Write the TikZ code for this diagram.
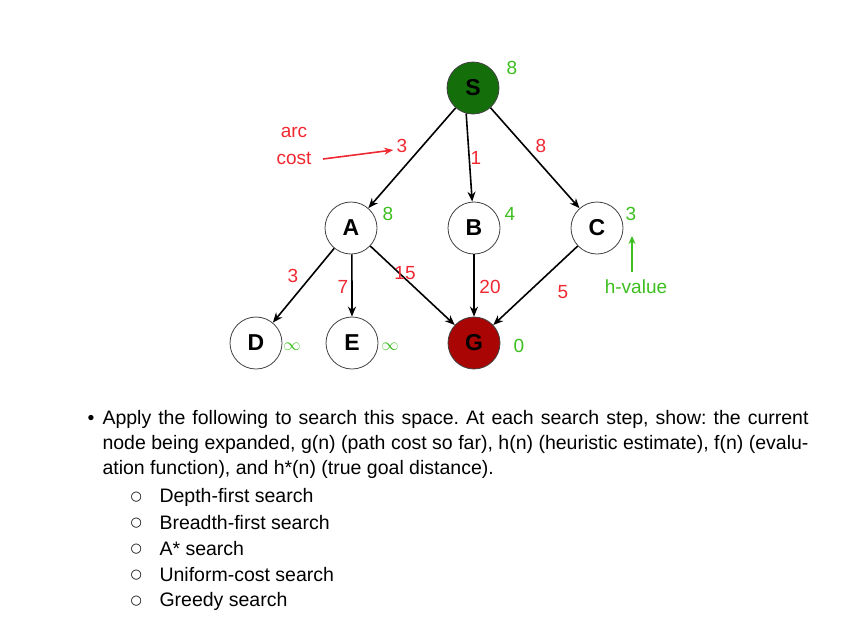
\documentclass[tikz,border=0pt]{standalone}
\usepackage{fontspec}
\setmainfont{Liberation Sans}
\newfontfamily\dejavu{DejaVu Sans}
\usetikzlibrary{arrows.meta}
\definecolor{gr}{RGB}{60,190,30}
\definecolor{rd}{RGB}{240,40,50}
\definecolor{sgreen}{RGB}{20,110,10}
\definecolor{gred}{RGB}{170,5,5}
\begin{document}
\frenchspacing
\begin{tikzpicture}[x=1pt,y=-1pt,
  nd/.style={circle,draw=black!75,line width=0.8pt,minimum size=52pt,inner sep=0pt,font=\fontsize{23}{23}\selectfont\bfseries},
  ed/.style={-{Stealth[length=10pt,width=8pt]},line width=1.6pt,black},
  cost/.style={text=rd,font=\fontsize{19}{19}\selectfont},
  hv/.style={text=gr,font=\fontsize{19}{19}\selectfont},
  body/.style={font=\fontsize{19.5}{22}\selectfont,anchor=west}]
\useasboundingbox (0,0) rectangle (845,633);
\node[nd,fill=sgreen] (S) at (473,88) {S};
\node[nd] (A) at (351,228) {A};
\node[nd] (B) at (474,228) {B};
\node[nd] (C) at (597,228) {C};
\node[nd] (D) at (256,343) {D};
\node[nd] (E) at (352,343) {E};
\node[nd,fill=gred] (G) at (474,343) {G};
\draw[ed] (S) -- (A);
\draw[ed] (S.255) -- (B);
\draw[ed] (S) -- (C);
\draw[ed] (A) -- (D);
\draw[ed] (A.272) -- (E);
\draw[ed] (A) -- (G);
\draw[ed] (B) -- (G);
\draw[ed] (C) -- (G);
\node[hv] (hS) at (512,68) {8};
\node[hv] (hA) at (388,214) {8};
\node[hv] (hB) at (510,214) {4};
\node[hv] (hC) at (631,214) {3};
\node[hv] (hD) at (292,347) {$\infty$};
\node[hv] (hE) at (390,347) {$\infty$};
\node[hv] (hG) at (519,346) {0};
\node[cost] (c1) at (402,146) {3};
\node[cost] (c2) at (476,158) {1};
\node[cost] (c3) at (541,146) {8};
\node[cost] (c4) at (293,276) {3};
\node[cost] (c5) at (343,287) {7};
\node[cost] (c6) at (405,273) {15};
\node[cost] (c7) at (490,287) {20};
\node[cost] (c8) at (563,292) {5};
\node[cost,align=center,font=\fontsize{19}{27}\selectfont] (arc) at (294,146) {arc\\cost};
\draw[rd,line width=1.6pt,-{Stealth[length=9pt,width=7pt]}] (323,159) -- (c1.west|-,150) ;
\node[hv] (hval) at (636,287) {h-value};
\coordinate (hb) at (632,272);
\draw[gr,line width=1.6pt,-{Stealth[length=8pt,width=7pt]}] (hb) -- (632,236);
\node[body] (b0) at (84,420) {\textbullet};
\node[body,anchor=north west,text width=706pt,align=justify,font=\fontsize{19.5}{25}\selectfont] (t) at (99,407) {Apply the following to search this space. At each search step, show: the current node being expanded, g(n) (path cost so far), h(n) (heuristic estimate), f(n) (evaluation function), and h*(n) (true goal distance).};
\foreach \y/\s [count=\i] in {497/Depth-first search,523/Breadth-first search,549/A* search,575/Uniform-cost search,601/Greedy search}{
  \node[body,font=\dejavu\fontsize{13}{13}\selectfont] (o\i) at (127,\y) {○};
  \node[body] (l\i) at (156,\y) {\s};
}
\end{tikzpicture}
\end{document}
